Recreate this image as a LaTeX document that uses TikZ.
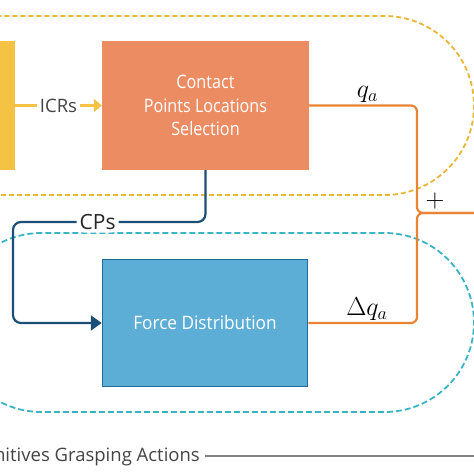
\RequirePackage{fix-cm}
\documentclass[tikz,border=0pt]{standalone}
\usepackage{fontspec}
\setmainfont{Open Sans}
\newfontfamily\selfont[FakeStretch=0.875]{Open Sans}
\newfontfamily\forcefont[FakeStretch=0.93]{Open Sans}
\usepackage{tikz}
\usetikzlibrary{arrows.meta}
\definecolor{barYellow}{HTML}{F5C243}
\definecolor{dashYellow}{HTML}{EBB535}
\definecolor{dashCyan}{HTML}{3AB4C4}
\definecolor{cslOrange}{HTML}{EC8C63}
\definecolor{qOrange}{HTML}{EA8435}
\definecolor{fdBlue}{HTML}{5DAED6}
\definecolor{fdBorder}{HTML}{1E6C9C}
\definecolor{cpBlue}{HTML}{1C4F77}
\definecolor{txtGray}{HTML}{444444}
\tikzstyle{block}=[rectangle,inner sep=0pt,text=white,align=center]
\tikzstyle{select}=[block,fill=cslOrange,minimum width=207pt,minimum height=129pt,font=\selfont\fontsize{18.5}{23.5}\selectfont]
\tikzstyle{force}=[block,fill=fdBlue,draw=fdBorder,line width=1.5pt,minimum width=205pt,minimum height=127pt,font=\forcefont\fontsize{18.5}{23.5}\selectfont]
\tikzstyle{bar}=[rectangle,fill=barYellow,minimum width=30pt,minimum height=129pt]
\tikzstyle{ydash}=[draw=dashYellow,line width=1.8pt,dash pattern=on 5pt off 3pt]
\tikzstyle{cdash}=[draw=dashCyan,line width=1.8pt,dash pattern=on 6pt off 3pt]
\tikzstyle{icr}=[draw=barYellow,line width=2.5pt,-{Triangle[length=8pt,width=13pt]}]
\tikzstyle{qline}=[draw=qOrange,line width=2.2pt,rounded corners=6pt]
\tikzstyle{cpline}=[draw=cpBlue,line width=2.2pt,rounded corners=8pt,-{Triangle[length=11pt,width=15pt]}]
\tikzstyle{mathlbl}=[font=\fontsize{26}{30}\selectfont,inner sep=1.5pt]
\tikzstyle{lbl}=[fill=white,inner sep=3pt]

\begin{document}
\begin{tikzpicture}[x=1pt,y=-1pt]
      \clip (0,0) rectangle (474,474);
      % containers
      \draw[ydash,rounded corners=89.5pt] (-220,16) rectangle (474,195);
      \draw[cdash,rounded corners=89.5pt] (-48,233) rectangle (474,412);
      % blocks
      \node[bar] at (0,105.5) (bar) {};
      \node[select] at (205.5,105.5) (csel) {Contact\\Points Locations\\Selection};
      \node[force] at (205,323) (fdist) {Force Distribution};
      \coordinate (join) at (417,213);
      \coordinate (out) at (480,213);
      \coordinate (cpl) at (13,222);
      % connectors
      \draw[icr] (bar.east) -- node[lbl,text=txtGray,font=\fontsize{18.5}{22}\selectfont] (icrs) {ICRs} (csel.west);
      \draw[qline] (csel.east) -| node[mathlbl,above,pos=0.27] (qa) {$q_a$} (join) -- (out);
      \draw[qline] (fdist.east) -| node[mathlbl,above,pos=0.27] (dqa) {$\Delta q_a$} (join) -- (out);
      \node[mathlbl] at (435,201) (plus) {$+$};
      \draw[cpline] (csel.south) |- node[lbl,pos=0.78,text=black!85,font=\fontsize{21}{24}\selectfont] (cps) {CPs} (cpl) |- (fdist.west);
      % legend
      \node[anchor=east,text=txtGray,font=\fontsize{18.5}{22}\selectfont,inner sep=2pt] at (202,457) (prim) {Primitives Grasping Actions};
      \draw[draw=gray,line width=1.6pt] (prim.east) ++(3,-1) coordinate (lst) -- (lst -| out);
    \end{tikzpicture}
\end{document}
